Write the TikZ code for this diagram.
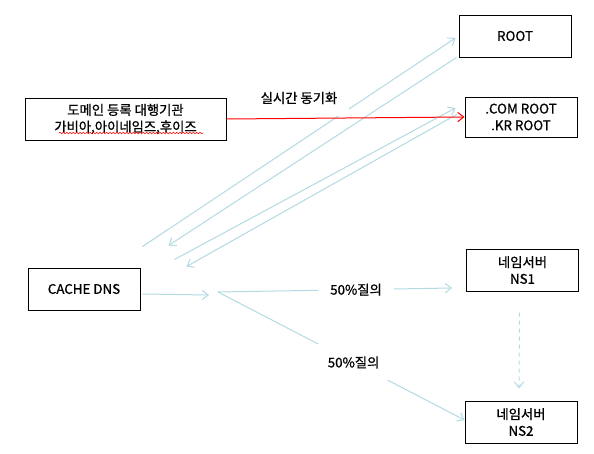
\documentclass[tikz,border=0pt]{standalone}
\usepackage{fontspec}
\setmainfont{Noto Sans CJK KR}[FakeBold=0.8]
\usepackage{tikz}
\usetikzlibrary{arrows.meta, calc, decorations.pathmorphing}

\definecolor{linkblue}{RGB}{178,218,226}

\begin{document}
\begin{tikzpicture}[x=0.75pt, y=-0.75pt, >={Straight Barb[length=4.5pt,width=7pt]},
		box/.style={draw, line width=0.75pt, minimum width=84pt, minimum height=31.5pt, align=center, inner sep=0pt, font=\fontsize{10}{12.5}\selectfont},
		flow/.style={draw=linkblue, line width=0.75pt, ->},
		tag/.style={fill=white, inner xsep=9pt, inner ysep=9pt, font=\fontsize{10}{12}\selectfont}]
		\useasboundingbox (0,0) rectangle (594,454);

		% servers
		\node[box] (root) at (515,36) {ROOT};
		\node[box, minimum height=30pt] (kr) at (521,117) {.COM ROOT\\.KR ROOT};
		\node[box, minimum width=150.75pt] (reg) at (125.5,119) {도메인 등록 대행기관\\가비아,아이네임즈,후이즈};
		\node[box] (cache) at (84,289) {CACHE DNS};
		\node[box] (ns1) at (522.5,270) {네임서버\\NS1};
		\node[box] (ns2) at (521,422) {네임서버\\NS2};
		\draw[red, line width=0.4pt, decorate, decoration={snake, amplitude=0.6pt, segment length=2.5pt}] (59,133) -- (203,133);

		% recursive queries
		\draw[flow] ([shift={(2,-21)}]cache.north east) -- ([shift={(-3,2)}]root.west);
		\draw[flow] ([shift={(-2,0)}]root.south west) -- ([shift={(28,-22)}]cache.north east);
		\draw[flow] ([shift={(34,-8)}]cache.north east) -- ([shift={(-9,-9)}]kr.west);
		\draw[flow] ([shift={(-7,-3)}]kr.west) -- ([shift={(46,-1)}]cache.north east);
		\node[tag] (sync) at (299,98) {실시간 동기화};
		\draw[red, line width=0.75pt, ->] (reg.east) -- (kr.west);

		% load balancing
		\coordinate (fork) at (218,292);
		\draw[flow] ([shift={(2,5)}]cache.east) -- ([shift={(-9,3)}]fork);
		\draw[flow] (fork) -- node[tag, pos=0.59] (half1) {50\%질의} ([shift={(-14,18)}]ns1.west);
		\draw[flow] (fork) -- node[tag, pos=0.55] (half2) {50\%질의} ([shift={(0,-2)}]ns2.west);
		\draw[flow, dashed] ([shift={(-3,21)}]ns1.south) -- ([shift={(-2,-12)}]ns2.north);
	\end{tikzpicture}
\end{document}
